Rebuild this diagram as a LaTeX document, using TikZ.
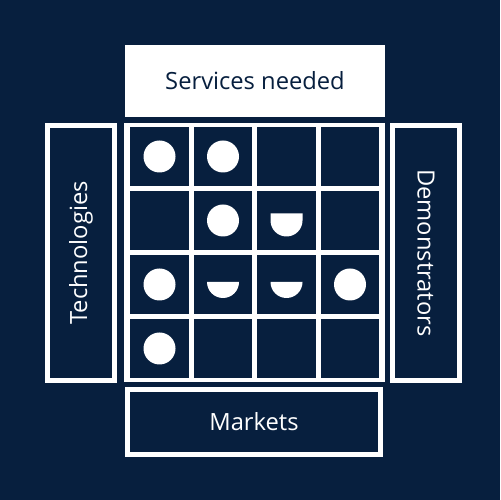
\documentclass[tikz,border=0pt]{standalone}
\usepackage{fontspec}
\setmainfont{Open Sans}
\definecolor{navy}{RGB}{7,31,62}
\begin{document}
\begin{tikzpicture}[x=0.02cm, y=0.02cm, line width=0.1cm,
  boxtext/.style={font=\fontsize{13.5}{15}\selectfont, inner sep=0pt},
  sidebox/.style={boxtext, draw=white, fill=navy, text=white, line width=0.1cm},
  cell/.style={fill=navy, minimum size=1.18cm, inner sep=0pt}]
  \fill[navy] (0,0) rectangle (500,500);
  \node[boxtext, fill=white, text=navy, minimum width=5.2cm, minimum height=1.44cm] (services) at (255,419) {Services needed};
  \node[sidebox, rotate=90, minimum width=5.1cm, minimum height=1.34cm] (tech) at (81,247) {Technologies};
  \node[sidebox, rotate=-90, minimum width=5.1cm, minimum height=1.34cm] (demo) at (426,247) {Demonstrators};
  \node[sidebox, minimum width=5.06cm, minimum height=1.3cm] (markets) at (254,78) {Markets};
  \node[fill=white, inner sep=0pt, minimum width=5.22cm, minimum height=5.18cm] (grid) at (254.5,247.5) {};
  \foreach \r in {1,...,4}
    \foreach \c in {1,...,4}
      \node[cell] (c-\r-\c) at ({159.5+63.5*(\c-1)}, {343.5-64*(\r-1)}) {};
  \foreach \r/\c in {1/1, 1/2, 2/2, 3/1, 3/4, 4/1}
    \fill[white] (c-\r-\c.center) circle[radius=16];
  \fill[white] ([shift={(-16,7)}]c-2-3.center) -- ++(32,0) -- ++(0,-7)
    arc[start angle=0, end angle=-180, radius=16] -- cycle;
  \foreach \c in {2,3}
    \fill[white] ([shift={(-16,2.5)}]c-3-\c.center) -- ++(32,0)
      arc[start angle=0, end angle=-180, radius=16] -- cycle;
\end{tikzpicture}
\end{document}
